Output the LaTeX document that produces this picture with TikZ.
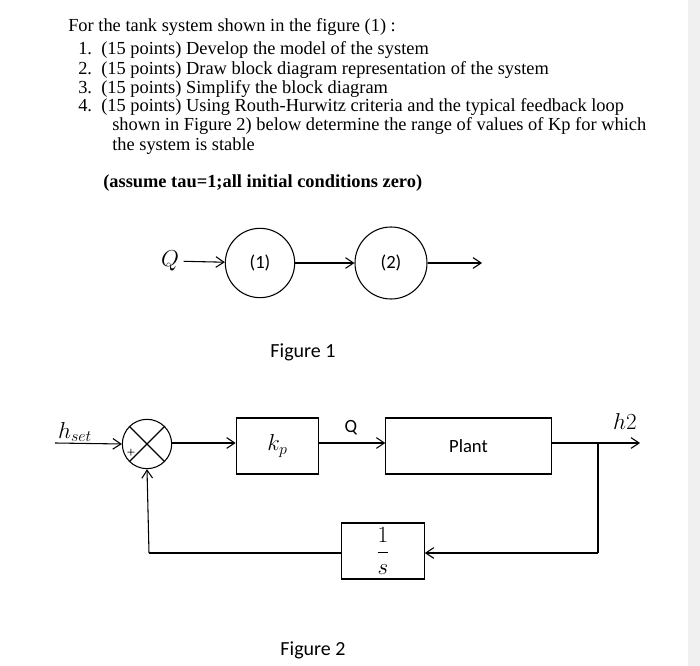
\documentclass[tikz,border=0pt]{standalone}
\usepackage{fontspec}
\setmainfont{Liberation Serif}
\newfontfamily\calfnt{Carlito}
\usetikzlibrary{arrows.meta}
\begin{document}
\begin{tikzpicture}[x=0.75pt,y=-0.75pt,
  txt/.style={anchor=west,inner sep=0,font=\fontsize{13.8}{16}\selectfont},
  blk/.style={draw,thick,inner sep=0},
  arr/.style={thick,-{Straight Barb[length=6pt,width=8pt]}},
  ln/.style={thick},
  mth/.style={font=\fontsize{17}{19}\selectfont}]
\useasboundingbox (0,0) rectangle (700,666);
\fill[gray!12] (688,0) rectangle (700,666);
\node[txt] (t0) at (68,27) {For the tank system shown in the figure (1) :};
\node[txt] (n1) at (78,50) {1.\ \ (15 points) Develop the model of the system};
\node[txt] (n2) at (78,70) {2.\ \ (15 points) Draw block diagram representation of the system};
\node[txt] (n3) at (78,89) {3.\ \ (15 points) Simplify the block diagram};
\node[txt] (n4) at (78,107) {4.\ \ (15 points) Using Routh-Hurwitz criteria and the typical feedback loop};
\node[txt] (n5) at (112,126) {shown in Figure 2) below determine the range of values of Kp for which};
\node[txt] (n6) at (112,146) {the system is stable};
\node[txt,font=\bfseries\fontsize{13.8}{16}\selectfont] (as) at (103,183) {(assume tau=1;all initial conditions zero)};
% figure 1
\node[mth] (q) at (170,261) {$Q$};
\node[draw,thick,circle,minimum size=52,font=\calfnt\fontsize{14}{16}\selectfont] (c1) at (260,263) {(1)};
\node[draw,thick,circle,minimum size=54,font=\calfnt\fontsize{14}{16}\selectfont] (c2) at (391,263) {(2)};
\coordinate (o1) at (482,263);
\draw[arr] (q) -- (c1);
\draw[arr] (c1) -- (c2);
\draw[arr] (c2) -- (o1);
\node[font=\calfnt\fontsize{15}{17}\selectfont] (f1) at (303,352) {Figure 1};
% figure 2
\node[draw,thick,circle,minimum size=37,inner sep=0] (s) at (147,444) {};
\draw[ln] (s.north east) -- (s.south west) (s.north west) -- (s.south east);
\node[font=\fontsize{11}{12}\selectfont] (pl) at (131,453) {+};
\node[mth] (hs) at (75,432) {$h_{set}$};
\coordinate (hin) at (55,443);
\draw[arr] (hin) -- (s.west);
\node[blk,mth,minimum width=62,minimum height=42] (kp) at (277.5,446) {$k_p$};
\node[blk,minimum width=124,minimum height=42,font=\calfnt\fontsize{14}{16}\selectfont] (pt) at (468.5,446) {Plant};
\node[font=\calfnt\fontsize{14}{16}\selectfont] (q2) at (351,428) {Q};
\node[mth] (h2) at (625,422) {$h2$};
\node[blk,mth,minimum width=62,minimum height=42] (fb) at (383,551) {$\displaystyle\frac{1}{s}$};
\coordinate (out) at (640,443);
\coordinate (br) at (598,443);
\coordinate (brd) at (598,553);
\coordinate (bl) at (149,553);
\draw[arr] (s.east |- 0,443) -- (kp.west |- 0,443);
\draw[arr] (kp.east |- 0,443) -- (pt.west |- 0,443);
\draw[arr] (pt.east |- 0,443) -- (out);
\draw[ln] (br) -- (brd);
\draw[arr] (brd) -- (fb.east |- brd);
\draw[ln] (fb.west |- bl) -- (bl);
\draw[arr] (bl) -- (s.south);
\node[font=\calfnt\fontsize{15}{17}\selectfont] (f2) at (313,650) {Figure 2};
\end{tikzpicture}
\end{document}
